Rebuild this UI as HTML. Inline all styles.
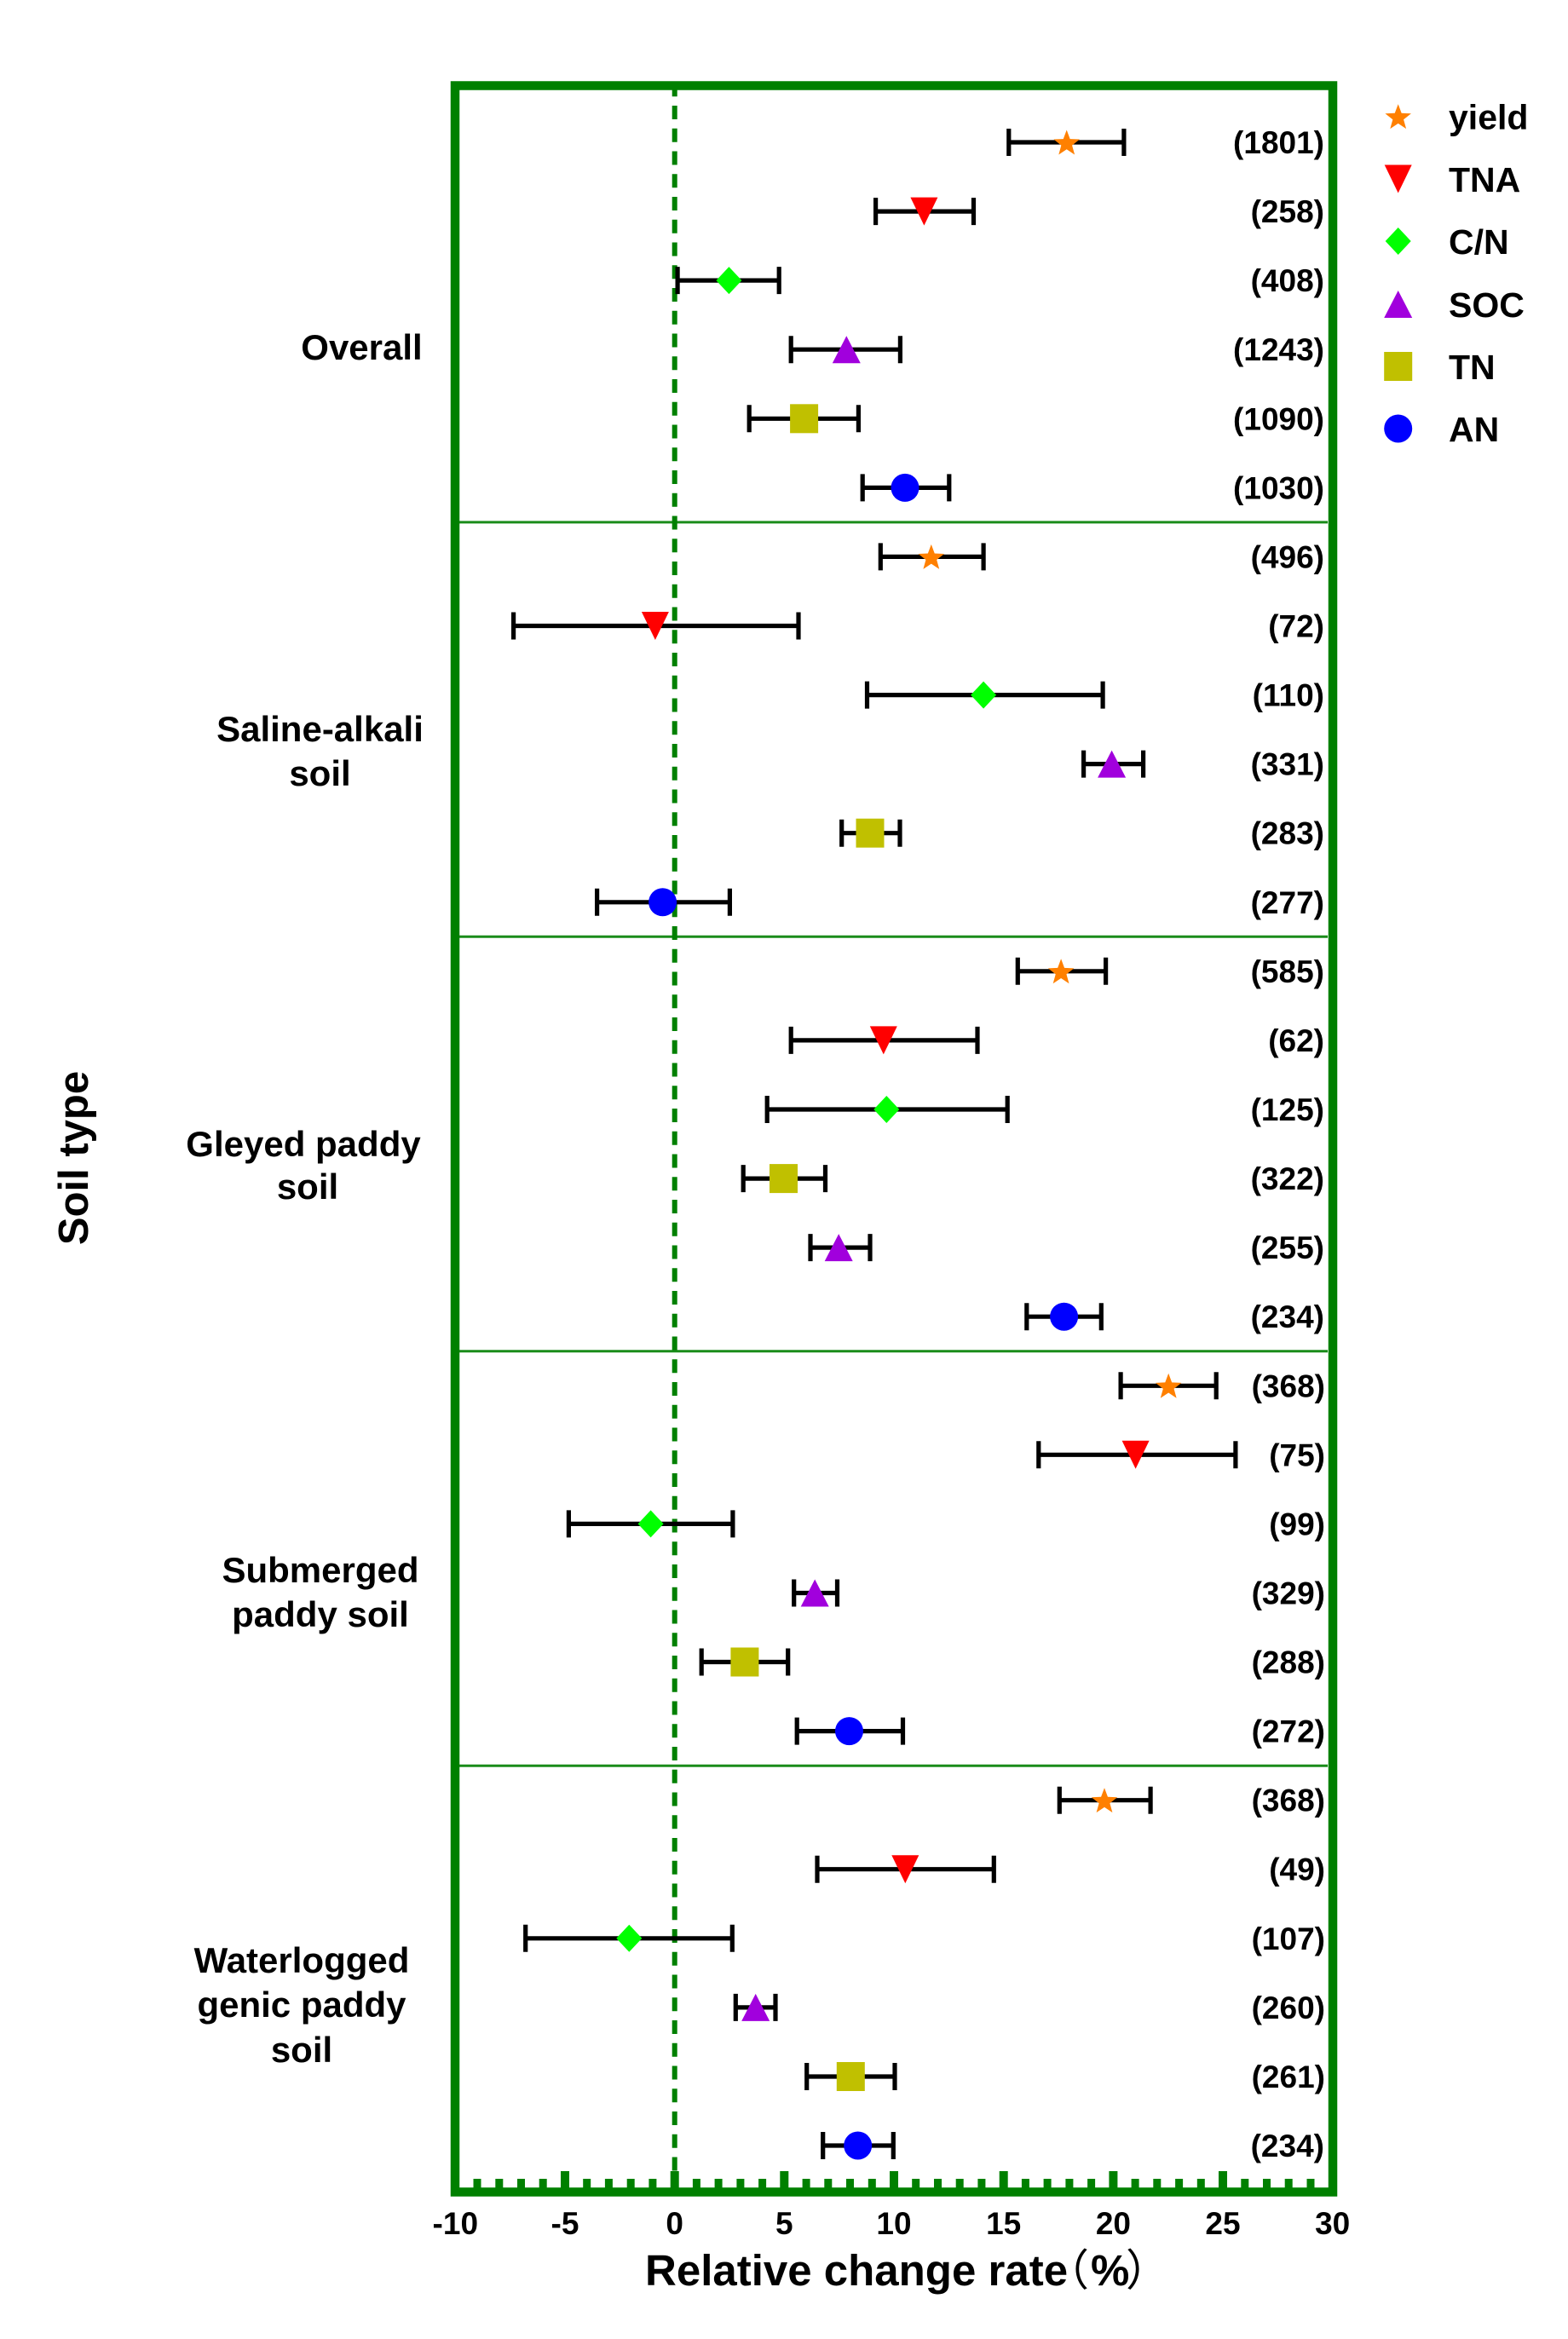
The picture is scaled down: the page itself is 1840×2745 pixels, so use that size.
<!DOCTYPE html>
<html><head><meta charset="utf-8"><style>html,body{margin:0;padding:0;background:#fff}svg{display:block}</style></head>
<body>
<svg width="1840" height="2745" viewBox="0 0 1840 2745" xmlns="http://www.w3.org/2000/svg" xmlns:xlink="http://www.w3.org/1999/xlink">
<defs>
<path id="star" d="M0,-14.5 L3.94,-3.92 L15.22,-3.44 L6.37,3.57 L9.40,14.44 L0,8.2 L-9.40,14.44 L-6.37,3.57 L-15.22,-3.44 L-3.94,-3.92 Z" fill="#FF8000"/>
<path id="tdown" d="M-16,-16.5 L16,-16.5 L0,16.5 Z" fill="#FF0000"/>
<path id="diam" d="M0,-16 L15,0 L0,16 L-15,0 Z" fill="#00FF00"/>
<path id="tup" d="M0,-16 L16.5,16 L-16.5,16 Z" fill="#A100DD"/>
<rect id="sq" x="-16.5" y="-17" width="33" height="34" fill="#C0C000"/>
<circle id="circ" cx="0" cy="0" r="16.5" fill="#0000FF"/>
</defs>
<rect x="0" y="0" width="1840" height="2745" fill="#fff"/>

<!-- dividers -->
<g stroke="#1a8c1a" stroke-width="3">
<line x1="539" y1="612.9" x2="1558" y2="612.9"/>
<line x1="539" y1="1099.3" x2="1558" y2="1099.3"/>
<line x1="539" y1="1585.7" x2="1558" y2="1585.7"/>
<line x1="539" y1="2072.2" x2="1558" y2="2072.2"/>
</g>

<!-- zero dashed line -->
<line x1="791.7" y1="97.3" x2="791.7" y2="2567" stroke="#008000" stroke-width="6" stroke-dasharray="16 10.75"/>

<!-- ticks -->
<g fill="#008000">
<rect x="555.5" y="2557" width="9" height="11"/>
<rect x="581.3" y="2557" width="9" height="11"/>
<rect x="607" y="2557" width="9" height="11"/>
<rect x="632.7" y="2557" width="9" height="11"/>
<rect x="658" y="2548" width="10" height="20"/>
<rect x="684.2" y="2557" width="9" height="11"/>
<rect x="709.9" y="2557" width="9" height="11"/>
<rect x="735.7" y="2557" width="9" height="11"/>
<rect x="761.4" y="2557" width="9" height="11"/>
<rect x="786.7" y="2548" width="10" height="20"/>
<rect x="812.9" y="2557" width="9" height="11"/>
<rect x="838.6" y="2557" width="9" height="11"/>
<rect x="864.4" y="2557" width="9" height="11"/>
<rect x="890.1" y="2557" width="9" height="11"/>
<rect x="915.3" y="2548" width="10" height="20"/>
<rect x="941.6" y="2557" width="9" height="11"/>
<rect x="967.3" y="2557" width="9" height="11"/>
<rect x="993" y="2557" width="9" height="11"/>
<rect x="1018.8" y="2557" width="9" height="11"/>
<rect x="1044" y="2548" width="10" height="20"/>
<rect x="1070.2" y="2557" width="9" height="11"/>
<rect x="1096" y="2557" width="9" height="11"/>
<rect x="1121.7" y="2557" width="9" height="11"/>
<rect x="1147.4" y="2557" width="9" height="11"/>
<rect x="1172.7" y="2548" width="10" height="20"/>
<rect x="1198.9" y="2557" width="9" height="11"/>
<rect x="1224.6" y="2557" width="9" height="11"/>
<rect x="1250.4" y="2557" width="9" height="11"/>
<rect x="1276.1" y="2557" width="9" height="11"/>
<rect x="1301.4" y="2548" width="10" height="20"/>
<rect x="1327.6" y="2557" width="9" height="11"/>
<rect x="1353.3" y="2557" width="9" height="11"/>
<rect x="1379.1" y="2557" width="9" height="11"/>
<rect x="1404.8" y="2557" width="9" height="11"/>
<rect x="1430" y="2548" width="10" height="20"/>
<rect x="1456.3" y="2557" width="9" height="11"/>
<rect x="1482" y="2557" width="9" height="11"/>
<rect x="1507.7" y="2557" width="9" height="11"/>
<rect x="1533.5" y="2557" width="9" height="11"/>
</g>

<!-- error bars -->
<g stroke="#000" stroke-width="5.2" fill="none">
<path d="M1183.8,167H1318.9M1183.8,151V183M1318.9,151V183"/>
<path d="M1027.6,248.1H1142.5M1027.6,232.1V264.1M1142.5,232.1V264.1"/>
<path d="M795.1,329.1H914.2M795.1,313.1V345.1M914.2,313.1V345.1"/>
<path d="M928.2,410.2H1056.4M928.2,394.2V426.2M1056.4,394.2V426.2"/>
<path d="M879.2,491.3H1007.4M879.2,475.3V507.3M1007.4,475.3V507.3"/>
<path d="M1012.2,572.4H1113.8M1012.2,556.4V588.4M1113.8,556.4V588.4"/>

<path d="M1033.3,653.4H1154.1M1033.3,637.4V669.4M1154.1,637.4V669.4"/>
<path d="M602.6,734.5H937M602.6,718.5V750.5M937,718.5V750.5"/>
<path d="M1017.5,815.6H1294.1M1017.5,799.6V831.6M1294.1,799.6V831.6"/>
<path d="M1271.6,896.6H1341.6M1271.6,880.6V912.6M1341.6,880.6V912.6"/>
<path d="M987.7,977.7H1056M987.7,961.7V993.7M1056,961.7V993.7"/>
<path d="M700.6,1058.8H856.4M700.6,1042.8V1074.8M856.4,1042.8V1074.8"/>

<path d="M1194.3,1139.8H1297.6M1194.3,1123.8V1155.8M1297.6,1123.8V1155.8"/>
<path d="M928.2,1220.9H1147M928.2,1204.9V1236.9M1147,1204.9V1236.9"/>
<path d="M900.2,1302H1182.2M900.2,1286V1318M1182.2,1286V1318"/>
<path d="M872.2,1383.1H968.5M872.2,1367.1V1399.1M968.5,1367.1V1399.1"/>
<path d="M951,1464.1H1021M951,1448.1V1480.1M1021,1448.1V1480.1"/>
<path d="M1204.8,1545.2H1292.3M1204.8,1529.2V1561.2M1292.3,1529.2V1561.2"/>

<path d="M1315.1,1626.3H1427.2M1315.1,1610.3V1642.3M1427.2,1610.3V1642.3"/>
<path d="M1218.8,1707.3H1449.9M1218.8,1691.3V1723.3M1449.9,1691.3V1723.3"/>
<path d="M667.4,1788.4H859.9M667.4,1772.4V1804.4M859.9,1772.4V1804.4"/>
<path d="M931.7,1869.5H982.5M931.7,1853.5V1885.5M982.5,1853.5V1885.5"/>
<path d="M823.2,1950.5H924.7M823.2,1934.5V1966.5M924.7,1934.5V1966.5"/>
<path d="M935.2,2031.6H1059.5M935.2,2015.6V2047.6M1059.5,2015.6V2047.6"/>

<path d="M1243.3,2112.7H1350.1M1243.3,2096.7V2128.7M1350.1,2096.7V2128.7"/>
<path d="M959,2193.7H1166.3M959,2177.7V2209.7M1166.3,2177.7V2209.7"/>
<path d="M616.7,2274.8H859.3M616.7,2258.8V2290.8M859.3,2258.8V2290.8"/>
<path d="M863.3,2355.9H910M863.3,2339.9V2371.9M910,2339.9V2371.9"/>
<path d="M946.7,2437H1050M946.7,2421V2453M1050,2421V2453"/>
<path d="M965.7,2518H1048.3M965.7,2502V2534M1048.3,2502V2534"/>
</g>

<!-- markers -->
<use href="#star" xlink:href="#star" x="1251.7" y="167"/>
<use href="#tdown" xlink:href="#tdown" x="1084.4" y="248.1"/>
<use href="#diam" xlink:href="#diam" x="855.4" y="329.1"/>
<use href="#tup" xlink:href="#tup" x="993.3" y="410.2"/>
<use href="#sq" xlink:href="#sq" x="943.6" y="491.3"/>
<use href="#circ" xlink:href="#circ" x="1062" y="572.4"/>

<use href="#star" xlink:href="#star" x="1092.8" y="653.4"/>
<use href="#tdown" xlink:href="#tdown" x="768.9" y="734.5"/>
<use href="#diam" xlink:href="#diam" x="1154.1" y="815.6"/>
<use href="#tup" xlink:href="#tup" x="1304.6" y="896.6"/>
<use href="#sq" xlink:href="#sq" x="1021" y="977.7"/>
<use href="#circ" xlink:href="#circ" x="777.6" y="1058.8"/>

<use href="#star" xlink:href="#star" x="1245.1" y="1139.8"/>
<use href="#tdown" xlink:href="#tdown" x="1036.8" y="1220.9"/>
<use href="#diam" xlink:href="#diam" x="1040.3" y="1302"/>
<use href="#sq" xlink:href="#sq" x="919.5" y="1383.1"/>
<use href="#tup" xlink:href="#tup" x="984.2" y="1464.1"/>
<use href="#circ" xlink:href="#circ" x="1248.6" y="1545.2"/>

<use href="#star" xlink:href="#star" x="1371.2" y="1626.3"/>
<use href="#tdown" xlink:href="#tdown" x="1332.6" y="1707.3"/>
<use href="#diam" xlink:href="#diam" x="763.6" y="1788.4"/>
<use href="#tup" xlink:href="#tup" x="956.2" y="1869.5"/>
<use href="#sq" xlink:href="#sq" x="873.9" y="1950.5"/>
<use href="#circ" xlink:href="#circ" x="996.5" y="2031.6"/>

<use href="#star" xlink:href="#star" x="1296" y="2112.7"/>
<use href="#tdown" xlink:href="#tdown" x="1062.3" y="2193.7"/>
<use href="#diam" xlink:href="#diam" x="738.3" y="2274.8"/>
<use href="#tup" xlink:href="#tup" x="886.7" y="2355.9"/>
<use href="#sq" xlink:href="#sq" x="998.3" y="2437"/>
<use href="#circ" xlink:href="#circ" x="1006.7" y="2518"/>

<!-- border -->
<rect x="534" y="100.5" width="1030" height="2472" fill="none" stroke="#008000" stroke-width="10.5"/>

<!-- count labels -->
<g font-family="'Liberation Sans', Arial, sans-serif" font-weight="bold" font-size="37" fill="#000" text-anchor="end">
<text x="1554" y="180">(1801)</text>
<text x="1554" y="261.1">(258)</text>
<text x="1554" y="342.1">(408)</text>
<text x="1554" y="423.2">(1243)</text>
<text x="1554" y="504.3">(1090)</text>
<text x="1554" y="585.4">(1030)</text>
<text x="1554" y="666.4">(496)</text>
<text x="1554" y="747.5">(72)</text>
<text x="1554" y="828.6">(110)</text>
<text x="1554" y="909.6">(331)</text>
<text x="1554" y="990.7">(283)</text>
<text x="1554" y="1071.8">(277)</text>
<text x="1554" y="1152.8">(585)</text>
<text x="1554" y="1233.9">(62)</text>
<text x="1554" y="1315">(125)</text>
<text x="1554" y="1396.1">(322)</text>
<text x="1554" y="1477.1">(255)</text>
<text x="1554" y="1558.2">(234)</text>
<text x="1555" y="1639.3">(368)</text>
<text x="1555" y="1720.3">(75)</text>
<text x="1555" y="1801.4">(99)</text>
<text x="1555" y="1882.5">(329)</text>
<text x="1555" y="1963.5">(288)</text>
<text x="1555" y="2044.6">(272)</text>
<text x="1555" y="2125.7">(368)</text>
<text x="1555" y="2206.7">(49)</text>
<text x="1555" y="2287.8">(107)</text>
<text x="1555" y="2368.9">(260)</text>
<text x="1555" y="2450">(261)</text>
<text x="1554" y="2531">(234)</text>
</g>

<!-- tick labels -->
<g font-family="'Liberation Sans', Arial, sans-serif" font-weight="bold" font-size="37" fill="#000" text-anchor="middle">
<text x="534.3" y="2622">-10</text>
<text x="663" y="2622">-5</text>
<text x="791.7" y="2622">0</text>
<text x="920.3" y="2622">5</text>
<text x="1049" y="2622">10</text>
<text x="1177.7" y="2622">15</text>
<text x="1306.4" y="2622">20</text>
<text x="1435" y="2622">25</text>
<text x="1563.7" y="2622">30</text>
</g>

<!-- category labels -->
<g font-family="'Liberation Sans', Arial, sans-serif" font-weight="bold" font-size="42" fill="#000" text-anchor="middle">
<text x="424.5" y="422">Overall</text>
<text x="375.5" y="870">Saline-alkali</text>
<text x="375.5" y="922">soil</text>
<text x="356" y="1357">Gleyed paddy</text>
<text x="361" y="1407">soil</text>
<text x="376" y="1857">Submerged</text>
<text x="376" y="1909">paddy soil</text>
<text x="354" y="2315">Waterlogged</text>
<text x="354" y="2367">genic paddy</text>
<text x="354" y="2420">soil</text>
</g>

<!-- axis titles -->
<text transform="translate(103,1359) rotate(-90)" text-anchor="middle" font-family="'Liberation Sans', Arial, sans-serif" font-weight="bold" font-size="49" fill="#000">Soil type</text>
<text x="757" y="2682" font-family="'Liberation Sans', 'Noto Sans CJK SC', sans-serif" font-weight="bold" font-size="51" fill="#000">Relative change rate<tspan x="1227" font-weight="normal">（</tspan><tspan x="1280">%</tspan><tspan x="1321" font-weight="normal">）</tspan></text>

<!-- legend -->
<use href="#star" xlink:href="#star" x="1640.7" y="136.7"/>
<use href="#tdown" xlink:href="#tdown" x="1640.7" y="210"/>
<use href="#diam" xlink:href="#diam" x="1640.7" y="283"/>
<use href="#tup" xlink:href="#tup" x="1640.7" y="357"/>
<use href="#sq" xlink:href="#sq" x="1640.7" y="430"/>
<use href="#circ" xlink:href="#circ" x="1640.7" y="503"/>
<g font-family="'Liberation Sans', Arial, sans-serif" font-weight="bold" font-size="41" fill="#000">
<text x="1700" y="151.7">yield</text>
<text x="1700" y="225">TNA</text>
<text x="1700" y="298">C/N</text>
<text x="1700" y="372">SOC</text>
<text x="1700" y="445">TN</text>
<text x="1700" y="518">AN</text>
</g>
</svg>
</body></html>
